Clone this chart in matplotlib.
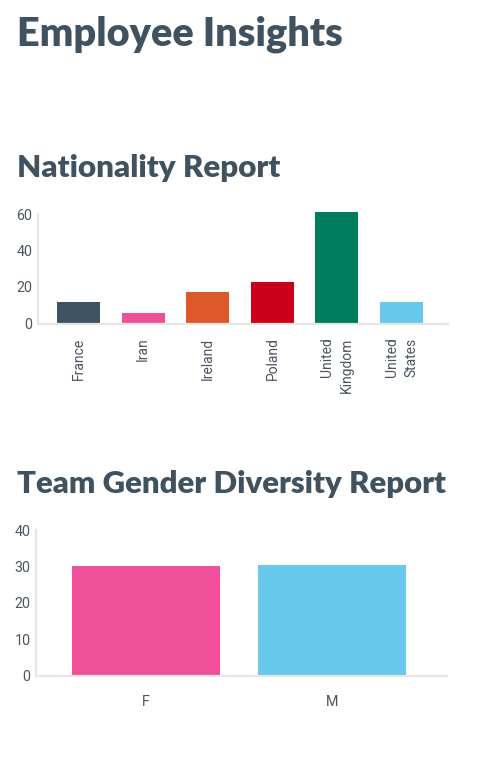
import matplotlib
matplotlib.use('Agg')
import matplotlib.pyplot as plt

# data
countries = ['France', 'Iran', 'Ireland', 'Poland', 'United\nKingdom', 'United\nStates']
nat_counts = [12, 6, 17, 23, 61, 12]
nat_colors = ['#3f5463', '#f0509a', '#de582b', '#cc001b', '#007d5f', '#68c9ec']

genders = ['F', 'M']
gender_counts = [30, 30.3]
gender_colors = ['#f0509a', '#68c9ec']

W, H = 496, 770
title_col = '#405260'
tick_col = '#4b5560'
spine_col = '#e6e6e6'

plt.rcParams['font.family'] = ['Roboto', 'DejaVu Sans']

fig = plt.figure(figsize=(W / 100, H / 100), dpi=100)
fig.patch.set_facecolor('white')


def px_axes(left, top, right, bottom):
    return fig.add_axes([left / W, 1 - bottom / H, (right - left) / W, (bottom - top) / H])


def style(ax):
    for s in ['top', 'right']:
        ax.spines[s].set_visible(False)
    for s in ['left', 'bottom']:
        ax.spines[s].set_color(spine_col)
        ax.spines[s].set_linewidth(1.6)
    ax.tick_params(length=0, labelsize=10.3, labelcolor=tick_col, pad=4)


fig.text(17 / W, 1 - 45.7 / H, 'Employee Insights', fontsize=28.5, fontweight='heavy',
         family=['Lato', 'DejaVu Sans'], color=title_col, va='baseline')
fig.text(17 / W, 1 - 176.7 / H, 'Nationality Report', fontsize=22.5, fontweight='heavy',
         family=['Lato', 'DejaVu Sans'], color=title_col, va='baseline')
fig.text(17 / W, 1 - 493 / H, 'Team Gender Diversity Report', fontsize=22.4, fontweight='heavy',
         family=['Lato', 'DejaVu Sans'], color=title_col, va='baseline')

# nationality
ax1 = px_axes(38, 214, 448, 323.5)
x1 = range(len(countries))
ax1.bar(x1, nat_counts, width=0.665, color=nat_colors, clip_on=False)
ax1.set_xlim(-0.63, 5.72)
ax1.set_ylim(0, 60)
ax1.set_yticks([0, 20, 40, 60])
ax1.set_xticks(list(x1))
ax1.set_xticklabels(countries, rotation=90, va='top', ha='center',
                    multialignment='right', linespacing=1.45)
style(ax1)
ax1.tick_params(axis='x', pad=10, labelsize=10)

# gender
ax2 = px_axes(36, 530, 447, 675.7)
x2 = range(len(genders))
ax2.bar(x2, gender_counts, width=0.796, color=gender_colors)
ax2.set_xlim(-0.59, 1.618)
ax2.set_ylim(0, 40)
ax2.set_yticks([0, 10, 20, 30, 40])
ax2.set_xticks(list(x2))
ax2.set_xticklabels(genders)
style(ax2)
ax2.tick_params(axis='x', pad=14)

fig.savefig('out.png', dpi=100)
